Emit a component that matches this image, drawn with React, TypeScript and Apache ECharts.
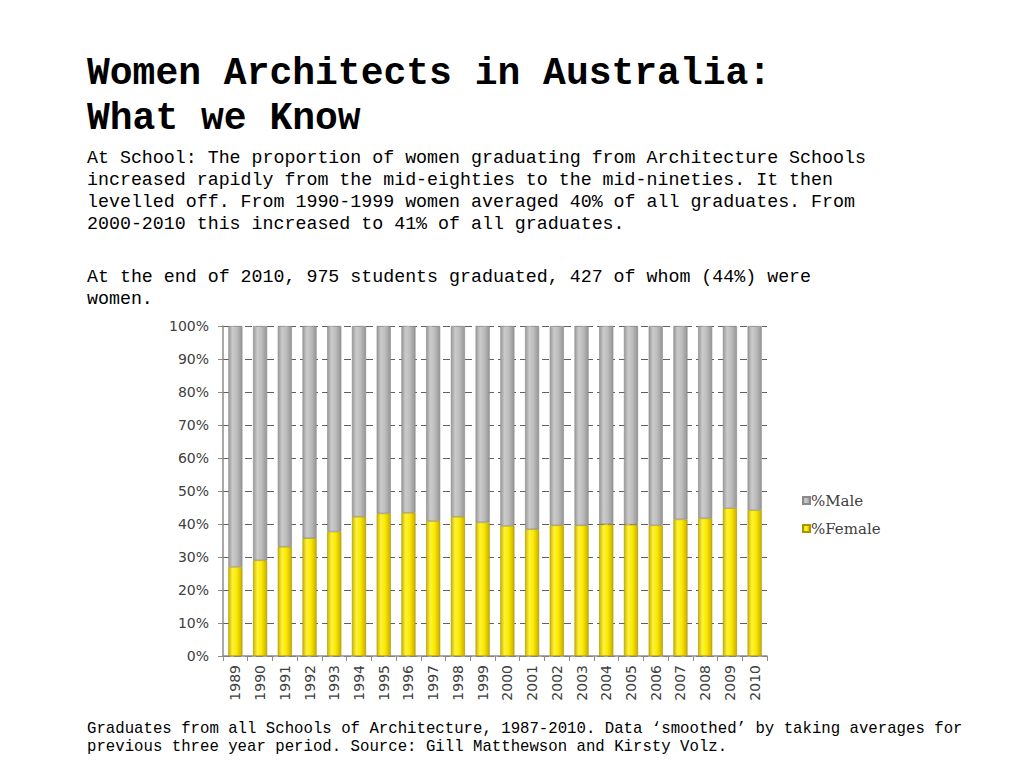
import React, { useEffect, useRef } from "react";
import * as echarts from "echarts";

const years = ["1989","1990","1991","1992","1993","1994","1995","1996","1997","1998","1999","2000","2001","2002","2003","2004","2005","2006","2007","2008","2009","2010"];
const female = [27.0,29.0,33.1,35.7,37.7,42.2,43.2,43.4,40.9,42.2,40.5,39.4,38.4,39.6,39.6,39.9,39.8,39.6,41.4,41.7,44.8,44.2];
const male = female.map((f) => Math.round((100 - f) * 10) / 10);
const yTicks = [0,10,20,30,40,50,60,70,80,90,100];

const title = "Women Architects in Australia:\nWhat we Know";
const para1 = "At School: The proportion of women graduating from Architecture Schools\nincreased rapidly from the mid-eighties to the mid-nineties. It then\nlevelled off. From 1990-1999 women averaged 40% of all graduates. From\n2000-2010 this increased to 41% of all graduates.";
const para2 = "At the end of 2010, 975 students graduated, 427 of whom (44%) were\nwomen.";
const footer = "Graduates from all Schools of Architecture, 1987-2010. Data \u2018smoothed\u2019 by taking averages for\nprevious three year period. Source: Gill Matthewson and Kirsty Volz.";

export default function App() {
  const ref = useRef<HTMLDivElement>(null);
  useEffect(() => {
    document.body.style.margin = "0";
    const chart = echarts.init(ref.current!, null, { renderer: "svg" });
    const yellow = new echarts.graphic.LinearGradient(0, 0, 1, 0, [
      { offset: 0, color: "#cdb800" },
      { offset: 0.3, color: "#fff23a" },
      { offset: 0.6, color: "#fbe900" },
      { offset: 1, color: "#c9ae00" },
    ]);
    const gray = new echarts.graphic.LinearGradient(0, 0, 1, 0, [
      { offset: 0, color: "#9a9a9a" },
      { offset: 0.3, color: "#cbcbcb" },
      { offset: 0.6, color: "#bdbdbd" },
      { offset: 1, color: "#959595" },
    ]);
    chart.setOption({
      animation: false,
      backgroundColor: "#ffffff",
      grid: { left: 223, right: 257, top: 326, bottom: 112, containLabel: false },
      legend: {
        orient: "vertical",
        left: 797,
        top: 488,
        itemGap: 13,
        itemWidth: 7,
        itemHeight: 7,
        icon: "rect",
        data: ["%Male", "%Female"],
        textStyle: { fontFamily: "DejaVu Serif", fontSize: 15, color: "#404040", padding: [0, 0, 0, -4] },
      },
      xAxis: {
        type: "category",
        data: years,
        axisLine: { show: true, lineStyle: { color: "#8c8c8c", width: 1.5 } },
        axisTick: { show: true, length: 5, lineStyle: { color: "#8c8c8c" } },
        axisLabel: { rotate: 90, margin: 9, fontFamily: "DejaVu Sans", fontSize: 14, color: "#404040" },
      },
      yAxis: {
        type: "value",
        min: 0,
        max: 100,
        interval: 10,
        axisLine: { show: true, lineStyle: { color: "#8c8c8c", width: 1.5 } },
        axisTick: { show: true, length: 5, lineStyle: { color: "#8c8c8c" } },
        axisLabel: {
          margin: 14,
          fontFamily: "DejaVu Sans",
          fontSize: 14,
          color: "#404040",
          formatter: (v: number) => (yTicks.includes(v) ? v + "%" : ""),
        },
        splitLine: { show: true, lineStyle: { color: "#606060", type: [7, 4], width: 1 } },
      },
      series: [
        {
          name: "%Female",
          type: "bar",
          stack: "total",
          data: female,
          barWidth: "57%",
          itemStyle: { color: yellow, borderColor: "#a89600", borderWidth: 0.6 },
        },
        {
          name: "%Male",
          type: "bar",
          stack: "total",
          data: male,
          barWidth: "57%",
          itemStyle: { color: gray, borderColor: "#8a8a8a", borderWidth: 0.6 },
        },
      ],
      graphic: [
        {
          type: "text",
          left: 87,
          top: 51,
          style: { text: title, font: "bold 38px 'Liberation Mono'", fill: "#000", lineHeight: 45 },
        },
        {
          type: "text",
          left: 87,
          top: 147,
          style: { text: para1, font: "18.3px 'Liberation Mono'", fill: "#000", lineHeight: 22 },
        },
        {
          type: "text",
          left: 87,
          top: 266,
          style: { text: para2, font: "18.3px 'Liberation Mono'", fill: "#000", lineHeight: 22 },
        },
        {
          type: "text",
          left: 87,
          top: 720,
          style: { text: footer, font: "15.7px 'Liberation Mono'", fill: "#000", lineHeight: 18 },
        },
      ],
    });
    return () => chart.dispose();
  }, []);
  return <div ref={ref} style={{ width: 1024, height: 768 }} />;
}
